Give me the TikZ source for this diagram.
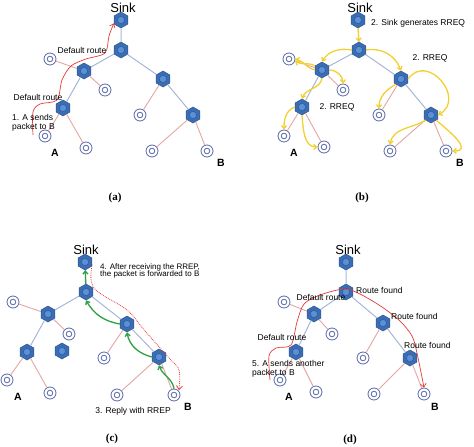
\documentclass[tikz,border=0pt]{standalone}
\usepackage{fontspec}
\setmainfont{Liberation Sans}
\newfontfamily\capfont{Liberation Serif}
\usetikzlibrary{shapes.geometric, arrows.meta}

\definecolor{hexfill}{HTML}{3A6DB3}
\definecolor{hexline}{HTML}{2B5590}
\definecolor{hexinner}{HTML}{5B8FD6}
\definecolor{leafcol}{HTML}{5868A8}
\definecolor{treeblue}{HTML}{A6B6D8}
\definecolor{treered}{HTML}{E3A6A6}
\definecolor{rreq}{HTML}{F2D033}
\definecolor{rrep}{HTML}{2FA043}
\definecolor{route}{HTML}{E23A3A}

\tikzset{
	hexnode/.style={regular polygon, regular polygon sides=6, shape border rotate=30,
		minimum size=16pt, inner sep=0pt, fill=hexfill, draw=hexline, line width=0.5pt,
		path picture={\filldraw[fill=hexinner, draw=hexline, line width=0.4pt] (path picture bounding box.center) circle (3.6pt);}},
	leaf/.style={circle, minimum size=12pt, inner sep=0pt, draw=leafcol, line width=0.8pt, fill=white,
		path picture={\draw[leafcol, line width=0.8pt] (path picture bounding box.center) circle (2.8pt);}},
	bedge/.style={treeblue, line width=1pt},
	redge/.style={treered, line width=0.9pt},
	rreqarrow/.style={rreq, line width=1.3pt, -{Straight Barb[length=3pt, width=5pt]}},
	rreparrow/.style={rrep, line width=1.3pt, -{Straight Barb[length=3pt, width=5pt]}},
	routearrow/.style={route, line width=0.7pt, -{Straight Barb[length=3.5pt, width=6pt]}},
	note/.style={font=\fontsize{8.5}{9.5}\selectfont, inner sep=0pt},
	sinklbl/.style={font=\fontsize{13}{13}\selectfont, inner sep=0pt},
	endlbl/.style={font=\fontsize{10.5}{11}\selectfont\bfseries, inner sep=0pt},
	caption/.style={font=\fontsize{11}{12}\selectfont\capfont\bfseries, inner sep=0pt}
}

\begin{document}
\begin{tikzpicture}[x=1pt, y=1pt]
	\useasboundingbox (0,0) rectangle (474,-447);
	% (a) default route
	\node [sinklbl] (asink) at (123,-8) {Sink};
	\node [hexnode] (a0) at (121,-20) {};
	\node [hexnode] (a1) at (121,-50) {};
	\node [hexnode] (a2) at (84,-71) {};
	\node [hexnode] (a3) at (63,-108) {};
	\node [hexnode] (a4) at (163,-79) {};
	\node [hexnode] (a5) at (193,-115) {};
	\node [leaf] (al1) at (50,-59) {};
	\node [leaf] (al2) at (105,-90) {};
	\node [leaf] (al3) at (45,-136) {};
	\node [leaf] (al4) at (86,-148) {};
	\node [leaf] (al5) at (140,-115) {};
	\node [leaf] (al6) at (152,-151) {};
	\node [leaf] (al7) at (207,-151) {};
	\draw [bedge] (a0) -- (a1) (a1) -- (a2) (a2) -- (a3) (a1) -- (a4) (a4) -- (a5);
	\draw [redge] (a2) -- (al1) (a2) -- (al2) (a3) -- (al3) (a3) -- (al4) (a4) -- (al5) (a5) -- (al6) (a5) -- (al7);
	\node [endlbl] (aA) at (55,-153) {A};
	\node [endlbl] (aB) at (221,-163) {B};
	\coordinate (asrc) at (33,-135);
	\draw [routearrow] plot [smooth, tension=0.5] coordinates {(asrc) (33,-112) (40,-104) (57,-100) (62,-80) (71,-66) (86,-59) (105,-53) (109,-36) (a0.205)};
	\node [note] (adef1) at (82,-50) {Default route};
	\node [note] (adef2) at (38,-97) {Default route};
	\node [note, align=left, anchor=west] (asend) at (12,-123) {1. A sends\\packet to B};
	\node [caption] (acap) at (115,-198) {(a)};
	% (b) route request
	\node [sinklbl] (bsink) at (360,-8) {Sink};
	\node [hexnode] (b0) at (358,-20) {};
	\node [hexnode] (b1) at (359,-50) {};
	\node [hexnode] (b2) at (322,-70) {};
	\node [hexnode] (b3) at (302,-107) {};
	\node [hexnode] (b4) at (401,-79) {};
	\node [hexnode] (b5) at (431,-115) {};
	\node [leaf] (bl1) at (289,-59) {};
	\node [leaf] (bl2) at (343,-90) {};
	\node [leaf] (bl3) at (284,-136) {};
	\node [leaf] (bl4) at (324,-147) {};
	\node [leaf] (bl5) at (379,-115) {};
	\node [leaf] (bl6) at (390,-151) {};
	\node [leaf] (bl7) at (446,-151) {};
	\draw [bedge] (b0) -- (b1) (b1) -- (b2) (b2) -- (b3) (b1) -- (b4) (b4) -- (b5);
	\draw [redge] (b2) -- (bl1) (b2) -- (bl2) (b3) -- (bl3) (b3) -- (bl4) (b4) -- (bl5) (b5) -- (bl6) (b5) -- (bl7);
	\node [endlbl] (bA) at (294,-153) {A};
	\node [endlbl] (bB) at (460,-163) {B};
	\draw [rreqarrow] (b0) -- (b1);
	\draw [rreqarrow] (b1.west) to [out=170, in=60] (b2.north);
	\draw [rreqarrow] (b1.east) to [out=10, in=110] (b4.north);
	\draw [rreqarrow] (b2.west) to [out=165, in=-15] (bl1.east);
	\draw [rreqarrow] (b2.150) to [out=150, in=-30] (bl1.-20);
	\draw [rreqarrow] (b2.east) to [out=0, in=90] (bl2.north);
	\draw [rreqarrow] (b2.south) to [out=-100, in=70] (b3.north);
	\draw [rreqarrow] (b3.west) to [out=200, in=90] (bl3.north);
	\draw [rreqarrow] (b3.south) to [out=-85, in=180] (bl4.west);
	\draw [rreqarrow] (b4.south west) to [out=210, in=90] (bl5.north);
	\draw [rreqarrow] (b4.east) to [out=55, in=30, looseness=1.8] (b5.east);
	\draw [rreqarrow] (b5.south west) to [out=210, in=80] (bl6.north);
	\draw [rreqarrow] (b5.south east) to [out=-40, in=0, looseness=1.5] (bl7.east);
	\node [note, anchor=west] (bgen) at (371,-23) {2. Sink generates RREQ};
	\node [note] (breq1) at (430,-58) {2. RREQ};
	\node [note] (breq2) at (337,-107) {2. RREQ};
	\node [caption] (bcap) at (362,-198) {(b)};
	% (c) route reply
	\node [sinklbl] (csink) at (86,-250) {Sink};
	\node [hexnode] (c0) at (85,-262) {};
	\node [hexnode] (c1) at (86,-292) {};
	\node [hexnode] (c2) at (48,-314) {};
	\node [hexnode] (c3) at (27,-352) {};
	\node [hexnode] (c6) at (62,-351) {};
	\node [hexnode] (c4) at (127,-324) {};
	\node [hexnode] (c5) at (159,-357) {};
	\node [leaf] (cl1) at (13,-302) {};
	\node [leaf] (cl2) at (69,-334) {};
	\node [leaf] (cl3) at (7,-380) {};
	\node [leaf] (cl4) at (50,-393) {};
	\node [leaf] (cl5) at (104,-358) {};
	\node [leaf] (cl6) at (117,-395) {};
	\node [leaf] (cl7) at (174,-395) {};
	\draw [bedge] (c0) -- (c1) (c1) -- (c2) (c2) -- (c3) (c1) -- (c4) (c4) -- (c5);
	\draw [redge] (c2) -- (cl1) (c2) -- (cl2) (c3) -- (cl3) (c3) -- (cl4) (c4) -- (cl5) (c5) -- (cl6) (c5) -- (cl7);
	\node [endlbl] (cA) at (18,-397) {A};
	\node [endlbl] (cB) at (188,-407) {B};
	\draw [rreparrow] (cl7.north) to [out=100, in=-70] (c5.south);
	\draw [rreparrow] (c5.west) to [out=165, in=-80] (c4.south);
	\draw [rreparrow] (c4.west) to [out=170, in=-60] (c1.south);
	\draw [rreparrow] (c1) -- (c0);
	\coordinate (cend) at (179,-390);
	\draw [routearrow, line width=0.8pt, densely dotted] plot [smooth, tension=0.6] coordinates {(c0.-20) (94,-288) (127,-310) (145,-331) (169,-358) (179,-370) (cend)};
	\node [note, font=\fontsize{8}{7.5}\selectfont, align=left, anchor=west] (cfwd) at (100,-271) {4. After receiving the RREP,\\the packet is forwarded to B};
	\node [note] (crep) at (133,-411) {3. Reply with RREP};
	\node [caption] (ccap) at (112,-439) {(c)};
	% (d) route found
	\node [sinklbl] (dsink) at (348,-250) {Sink};
	\node [hexnode] (d0) at (346,-262) {};
	\node [hexnode] (d1) at (346,-292) {};
	\node [hexnode] (d2) at (314,-314) {};
	\node [hexnode] (d3) at (296,-352) {};
	\node [hexnode] (d4) at (383,-323) {};
	\node [hexnode] (d5) at (410,-358) {};
	\node [leaf] (dl1) at (284,-302) {};
	\node [leaf] (dl2) at (332,-334) {};
	\node [leaf] (dl3) at (280,-380) {};
	\node [leaf] (dl4) at (316,-392) {};
	\node [leaf] (dl5) at (363,-358) {};
	\node [leaf] (dl6) at (374,-394) {};
	\node [leaf] (dl7) at (424,-394) {};
	\draw [bedge] (d0) -- (d1) (d1) -- (d2) (d2) -- (d3) (d1) -- (d4) (d4) -- (d5);
	\draw [redge] (d2) -- (dl1) (d2) -- (dl2) (d3) -- (dl3) (d3) -- (dl4) (d4) -- (dl5) (d5) -- (dl6) (d5) -- (dl7);
	\node [endlbl] (dA) at (289,-397) {A};
	\node [endlbl] (dB) at (435,-407) {B};
	\coordinate (dsrc) at (270,-380);
	\draw [routearrow] plot [smooth, tension=0.5] coordinates {(dsrc) (269,-356) (276,-348) (291,-345) (297,-322) (304,-304) (320,-295) (344,-289) (360,-294) (382,-307) (400,-321) (412,-336) (417,-353) (dl7.north)};
	\node [note, anchor=west] (dfound1) at (356,-290) {Route found};
	\node [note, anchor=west] (dfound2) at (391,-316) {Route found};
	\node [note, anchor=west] (dfound3) at (404,-345) {Route found};
	\node [note] (ddef1) at (321,-297) {Default route};
	\node [note] (ddef2) at (282,-337) {Default route};
	\node [note, align=left, anchor=west] (dsend) at (252,-369) {5. A sends another\\packet to B};
	\node [caption] (dcap) at (350,-440) {(d)};
\end{tikzpicture}
\end{document}
